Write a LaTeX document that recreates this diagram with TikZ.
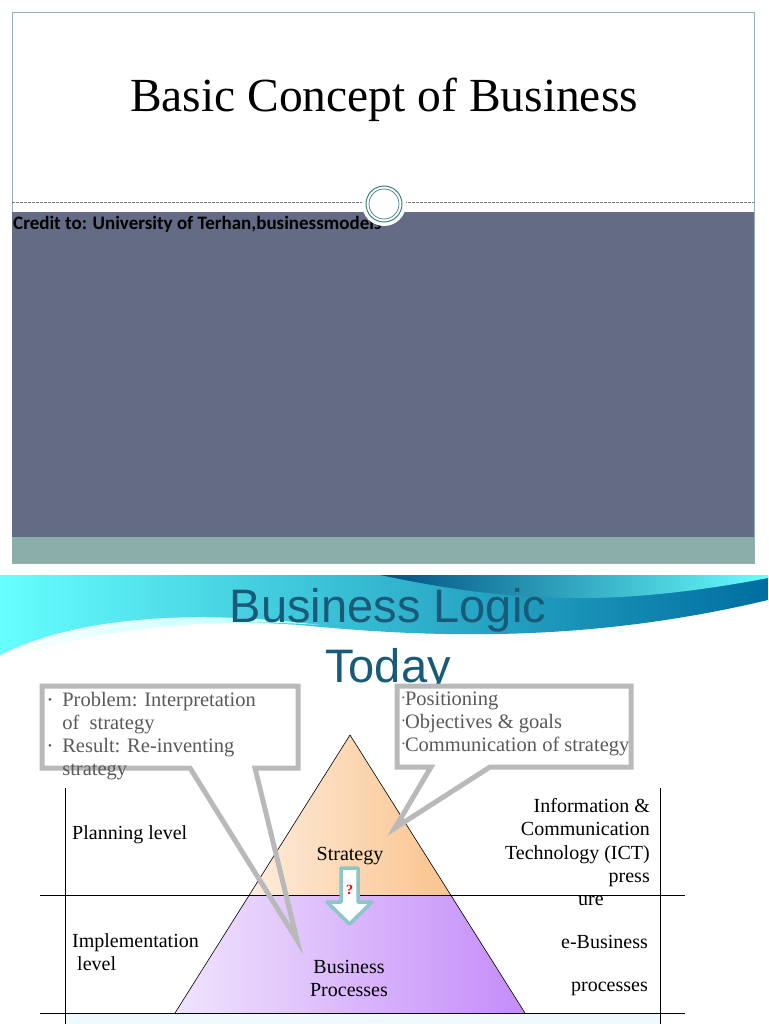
\documentclass[tikz,border=0pt]{standalone}
\usepackage{fontspec}
\setmainfont{Liberation Serif}
\newfontfamily\sansf{Liberation Sans}
\newfontfamily\cali{Carlito}
\definecolor{purp}{RGB}{196,140,250}
\definecolor{purl}{RGB}{240,228,252}
\definecolor{orn}{RGB}{250,195,140}
\definecolor{ornl}{RGB}{253,236,220}
\newcommand{\bul}{{\fontsize{11}{11}\selectfont\raisebox{3pt}{\textbullet}}}
\begin{document}
\begin{tikzpicture}[x=1pt,y=-1pt,
  lbl/.style={font=\fontsize{20}{23}\selectfont, align=left},
  rlbl/.style={font=\fontsize{20}{23}\selectfont, align=right},
  callout/.style={draw=gray!55, line width=5pt, line join=miter},
  ctext/.style={font=\fontsize{20.5}{23}\selectfont, text=gray!70!black, align=left, anchor=north west, inner sep=0pt},
  rule/.style={line width=0.6pt}]
\useasboundingbox (0,0) rectangle (768,1024);
\fill[white] (0,0) rectangle (768,1024);
% slide 1
\draw[draw=teal!40!gray!60] (12,12) rectangle (754,563);
\fill[fill={rgb,255:red,100;green,107;blue,133}] (12,212) rectangle (754,537);
\fill[fill={rgb,255:red,139;green,174;blue,171}] (12,537) rectangle (754,563);
\draw[gray, dash pattern=on 3pt off 1pt] (12,202) -- (754,202);
\node (t1) at (384,100) {\fontsize{47.5}{52}\selectfont Basic Concept of Business};
\node[anchor=west, font=\cali\bfseries\fontsize{19}{22}\selectfont, inner sep=1pt] (cred) at (12,224) {Credit to: University of Terhan,businessmodels};
\fill[white] (384,204) circle (22);
\draw[teal!50!gray, line width=1pt] (384,204) circle (18);
\draw[teal!50!gray, line width=0.7pt] (384,204) circle (15);
% slide 2 wave
\shade[left color=cyan!60!white, right color={rgb,255:red,0;green,110;blue,160}] (0,575) -- (768,575) -- (768,600) .. controls (600,640) and (450,640) .. (300,625) .. controls (150,615) and (60,630) .. (0,660) -- cycle;
\shade[left color=white, right color=cyan!30!white] (0,655) .. controls (80,615) and (200,610) .. (320,625) .. controls (220,618) and (100,625) .. (0,662) -- cycle;
\shade[left color={rgb,255:red,0;green,80;blue,130}, right color=cyan!60!white] (380,575) .. controls (500,600) and (600,610) .. (768,578) -- (768,575) -- cycle;
\node[font=\sansf\fontsize{47}{50}\selectfont, text={rgb,255:red,25;green,90;blue,120}] (t2a) at (388,610) {Business Logic};
\begin{scope}
\clip (300,640) rectangle (480,686);
\node[font=\sansf\fontsize{47}{50}\selectfont, text={rgb,255:red,25;green,90;blue,120}] (t2b) at (388,670) {Today};
\end{scope}
% bottom band
\fill[cyan!6] (65,1013) rectangle (660,1024);
% pyramid
\shade[left color=ornl, right color=orn] (350,735) -- (249,895) -- (451,895) -- cycle;
\shade[left color=purl, right color=purp] (249,895) -- (175,1013) -- (525,1013) -- (451,895) -- cycle;
\draw[rule] (350,735) -- (175,1013);
\draw[rule] (350,735) -- (525,1013);
\draw[rule] (65,788) -- (65,1024);
\draw[rule] (660,788) -- (660,1024);
\draw[rule] (40,895) -- (685,895);
\draw[rule] (40,1013) -- (685,1013);
% arrow
\draw[draw=teal!45, fill=white, line width=3.5pt, line join=round] (341,868) -- (358,868) -- (358,902) -- (372,902) -- (349.5,924) -- (327,902) -- (341,902) -- cycle;
\node[text=red, font=\bfseries\fontsize{14}{16}\selectfont] (q) at (349.5,890) {?};
% texts
\node[font=\fontsize{20}{23}\selectfont] (strat) at (350,856) {Strategy};
\node[font=\fontsize{20}{23}\selectfont, align=center] (bp) at (349,978) {Business\\Processes};
\node[lbl, anchor=west, inner sep=0pt] (pl) at (72,835) {Planning level};
\node[lbl, anchor=north west, inner sep=0pt] (il) at (72,933) {Implementation\\\ level};
\node[rlbl, anchor=north east, inner sep=0pt, font=\fontsize{20}{23.5}\selectfont] (ict) at (650,798) {Information \&\\Communication\hspace{6pt}\\Technology (ICT)\\press};
\node[font=\fontsize{20}{23}\selectfont] (ure) at (591,901) {ure};
\node[rlbl, anchor=east, inner sep=0pt] (eb) at (648,942) {e-Business};
\node[rlbl, anchor=east, inner sep=0pt] (pr) at (648,989) {processes};
% callouts
\draw[callout] (190,768) -- (42,768) -- (42,686) -- (298,686) -- (298,768) -- (255,768) -- (297,940) -- cycle;
\draw[callout] (431,767) -- (397,767) -- (397,686) -- (631,686) -- (631,767) -- (490,767) -- (395,828) -- cycle;
\node[ctext] (c1) at (48,692) {\bul\ \ Problem: Interpretation\\\phantom{\bul\ \ }of\ \ strategy\\\bul\ \ Result: Re-inventing\\\phantom{\bul\ \ }strategy};
\node[ctext] (c2) at (402,692) {{\fontsize{8}{8}\selectfont\raisebox{5pt}{\textbullet}}Positioning\\{\fontsize{8}{8}\selectfont\raisebox{5pt}{\textbullet}}Objectives \& goals\\{\fontsize{8}{8}\selectfont\raisebox{5pt}{\textbullet}}Communication of strategy};
\end{tikzpicture}
\end{document}
